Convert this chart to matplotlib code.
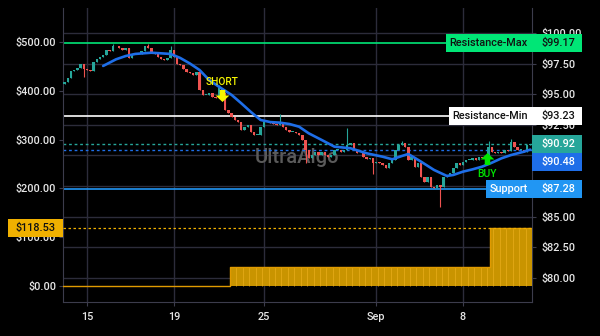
import matplotlib
matplotlib.use("Agg")
import matplotlib.pyplot as plt
import numpy as np
from matplotlib.patches import Rectangle
from matplotlib.path import Path
from matplotlib.transforms import offset_copy

plt.rcParams["font.family"] = ["Roboto", "DejaVu Sans"]
plt.rcParams["font.weight"] = "medium"

# ---------------------------------------------------------------------------
# Data
# ---------------------------------------------------------------------------
DAY_LABELS = ["15", "19", "25", "Sep", "8"]
DAY_BARS = [7, 34, 62, 97, 124]

FIRST_OPEN = 95.85
CLOSES = [
    96.02, 96.30, 96.90, 96.98, 97.17, 97.50, 97.10, 96.96, 96.90, 97.65,
    97.85, 98.00, 98.20, 98.60, 98.56, 98.94, 98.90, 98.75, 98.60, 98.75,
    97.93, 98.30, 98.40, 98.29, 98.56, 98.90, 98.75, 98.48, 98.30, 98.07,
    97.85, 97.80, 97.93, 98.60, 98.07, 97.50, 97.40,
    97.10, 96.85, 96.70, 96.57, 96.85, 95.35, 94.94, 94.94, 95.08, 94.75,
    94.67, 95.50, 95.08, 93.70, 93.50, 93.17, 92.90, 92.76, 92.08, 92.35,
    92.50, 91.94, 91.67, 91.67, 92.35, 92.76, 92.70, 92.65, 92.60, 92.50,
    92.76, 92.35, 92.08,
    91.94, 91.94, 91.80, 91.67, 91.27, 90.45, 89.77, 90.04, 90.30, 90.04,
    90.30, 90.04, 89.90, 90.04, 90.45, 90.45, 90.30, 90.45, 90.86, 91.00,
    90.45, 90.18, 90.18, 89.90, 89.69, 89.77, 89.36, 89.50, 89.36, 89.22,
    88.95, 89.36, 89.63, 90.45, 90.86, 91.05, 90.72, 89.63,
    89.90, 89.09, 89.36, 88.27, 87.86, 88.27, 87.45, 87.32, 87.59, 87.45,
    88.27, 88.40, 88.55, 88.95, 89.36, 89.22, 89.50, 89.63, 89.63, 89.77,
    89.63, 89.90, 89.77, 89.90, 90.72, 90.30, 90.17, 90.30, 90.17, 90.45,
    90.40, 91.12, 90.72, 90.45, 90.45, 90.30, 90.86, 90.92,
]
HIGH_SPIKES = {15: 99.10, 26: 99.10, 33: 98.95, 48: 95.76, 67: 93.35,
               88: 92.22, 105: 91.20, 132: 91.15, 139: 91.35}
LOW_SPIKES = {6: 96.43, 75: 89.40, 96: 88.45, 117: 85.82}

MA_BARS = [12, 16, 19, 22, 27, 30, 33, 36, 39, 42, 45, 48, 52, 55, 58, 61,
           64, 67, 70, 73, 76, 80, 84, 89, 94, 99, 102, 105, 107, 111, 115,
           119, 121, 124, 127, 130, 133, 136, 139, 143, 145]
MA_VALUES = [97.31, 97.85, 98.12, 98.29, 98.39, 98.34, 98.29, 97.96, 97.51,
             96.98, 96.16, 95.62, 94.94, 94.26, 93.55, 92.90, 92.73, 92.68,
             92.57, 92.35, 91.81, 91.27, 90.72, 90.59, 90.18, 89.90, 89.69,
             89.96, 90.12, 89.49, 88.82, 88.33, 88.41, 88.68, 88.87, 89.09,
             89.41, 89.77, 90.04, 90.31, 90.48]

LEVEL_NAMES = ["Resistance-Max", "Resistance-Min", "Support"]
LEVEL_VALUES = [99.17, 93.23, 87.28]
LEVEL_COLORS = ["#00e676", "#ffffff", "#2196f3"]
LEVEL_TEXT = ["#111111", "#111111", "#ffffff"]

LAST_PRICE = 90.92
MA_LAST = 90.48

GOLD_START = [0, 52, 133]
GOLD_LEVEL = [0.0, 39.0, 118.53]

SIGNAL_TEXT = ["SHORT", "BUY"]
SIGNAL_BAR = [49, 131]

PRICE_TICKS = [80, 82.5, 85, 87.5, 90, 92.5, 95, 97.5, 100]
HIDDEN_TICKS = [87.5, 90]          # fully covered by the price tags
LEFT_TICKS = [0, 100, 200, 300, 400, 500]

# ---------------------------------------------------------------------------
# Style
# ---------------------------------------------------------------------------
W, H = 600, 336
GREEN = "#26a69a"
RED = "#ef5350"
GRID = "#2c2c3a"
SPINE = "#3c3c4c"
LABEL = "#e6e6e6"
MA_COLOR = "#1e6ee8"
GOLD = "#c99400"
GOLD_EDGE = "#e6aa18"
FS = 7.8

fig = plt.figure(figsize=(W / 100, H / 100), dpi=100, facecolor="black")
ax = fig.add_axes([63 / W, 34 / H, 469 / W, 294 / H])
ax.set_facecolor("black")
axl = ax.twinx()
ax.yaxis.tick_right()
axl.yaxis.tick_left()

n = len(CLOSES)
idx = np.arange(n)
closes = np.array(CLOSES)
opens = np.array([FIRST_OPEN] + CLOSES[:-1])
highs = np.maximum(opens, closes)
lows = np.minimum(opens, closes)
for k, v in HIGH_SPIKES.items():
    highs[k] = max(highs[k], v)
for k, v in LOW_SPIKES.items():
    lows[k] = min(lows[k], v)
colors = np.where(closes >= opens, GREEN, RED)

ax.set_xlim(-0.5, n - 0.5)
ax.set_ylim(78.04, 102.04)
axl.set_ylim(-32.8, 569.7)

# grid
ax.set_yticks(PRICE_TICKS)
ax.set_yticklabels(["" if v in HIDDEN_TICKS else f"${v:.2f}" for v in PRICE_TICKS])
ax.set_xticks(DAY_BARS)
ax.set_xticklabels(DAY_LABELS)
ax.grid(True, color=GRID, lw=1)
ax.set_axisbelow(True)

# levels
for val, col in zip(LEVEL_VALUES, LEVEL_COLORS):
    ax.axhline(val, color=col, lw=1.2, zorder=2)
ax.axhline(LAST_PRICE, color=GREEN, lw=1, ls=(0, (2, 2)), zorder=2)
ax.axhline(MA_LAST, color=MA_COLOR, lw=1, ls=(0, (2, 2)), zorder=2)

# watermark
ax.text(0.5, 0.49, "UltraAlgo", transform=ax.transAxes, ha="center",
        va="center", fontsize=14.5, color="#5a5a5a", zorder=1)

# candles
ax.vlines(idx, lows, highs, colors=colors, lw=0.8, zorder=3)
body = np.maximum(np.abs(closes - opens), 0.05)
ax.bar(idx, body, bottom=np.minimum(opens, closes), width=0.75,
       color=colors, zorder=3)

# moving average
ax.plot(MA_BARS, MA_VALUES, color=MA_COLOR, lw=1.9, zorder=4,
        solid_capstyle="round")

# signals
down = Path([(-0.3, 0.6), (0.3, 0.6), (0.3, 0.0), (0.75, 0.0), (0.0, -0.7),
             (-0.75, 0.0), (-0.3, 0.0), (-0.3, 0.6)], closed=True)
up = Path([(x, -y) for x, y in down.vertices], closed=True)
sb, bb = SIGNAL_BAR
ax.plot([sb], [CLOSES[sb]], marker=down, ms=10, color="#f5f500", mec="none",
        transform=offset_copy(ax.transData, fig=fig, y=-2, units="dots"),
        zorder=6)
ax.annotate(SIGNAL_TEXT[0], xy=(sb, CLOSES[sb]), xytext=(0, 11),
            textcoords="offset pixels", ha="center", va="center",
            color="#f5f500", fontsize=7.4, zorder=6)
ax.plot([bb], [CLOSES[bb]], marker=up, ms=10, color="#00e600", mec="none",
        transform=offset_copy(ax.transData, fig=fig, x=2, y=-2, units="dots"),
        zorder=6)
ax.annotate(SIGNAL_TEXT[1], xy=(bb, CLOSES[bb]), xytext=(2, -17),
            textcoords="offset pixels", ha="center", va="center",
            color="#00e600", fontsize=7.4, zorder=6)

# gold step area on left scale
gold = np.zeros(n)
for s, v in zip(GOLD_START, GOLD_LEVEL):
    gold[s:] = v
on = gold > 0
axl.bar(idx[on], gold[on], width=1.0, color=GOLD, linewidth=0, zorder=2)
axl.vlines(idx[on][::2] - 0.5, 0, gold[on][::2], color=GOLD_EDGE, lw=0.7,
           alpha=0.8, zorder=2.5)
axl.step(np.append(idx - 0.5, n - 0.5), np.append(gold, gold[-1]),
         where="post", color="#e09a00", lw=1, zorder=3)
axl.axhline(GOLD_LEVEL[-1], color="#f0b000", lw=0.9, ls=(0, (2, 2)), zorder=3)
axl.set_yticks(LEFT_TICKS)
axl.set_yticklabels([f"${v:.2f}" for v in LEFT_TICKS])

# axes cosmetics
for a in (ax, axl):
    for s in a.spines.values():
        s.set_visible(False)
for side in ("left", "right", "bottom"):
    ax.spines[side].set_visible(True)
    ax.spines[side].set_color(SPINE)
ax.tick_params(axis="y", colors=SPINE, labelcolor=LABEL, labelsize=FS,
               length=3, pad=4)
ax.tick_params(axis="x", colors=SPINE, labelcolor=LABEL, labelsize=FS,
               length=3, pad=4)
axl.tick_params(axis="y", colors=SPINE, labelcolor=LABEL, labelsize=FS,
                length=3, pad=2)


# ---------------------------------------------------------------------------
# Price tags on the scales
# ---------------------------------------------------------------------------
def to_px(a, val):
    return H - a.transData.transform((0, val))[1]


def box(x0, x1, yc, text, bg, fg, h=18):
    fig.patches.append(Rectangle((x0 / W, 1 - (yc + h / 2) / H),
                                 (x1 - x0) / W, h / H,
                                 transform=fig.transFigure, facecolor=bg,
                                 edgecolor="none", zorder=5))
    fig.text((x0 + 10) / W, 1 - yc / H, text, ha="left", va="center",
             color=fg, fontsize=FS, zorder=6)


tags = [(LEVEL_VALUES[0], LEVEL_COLORS[0], LEVEL_TEXT[0]),
        (LEVEL_VALUES[1], LEVEL_COLORS[1], LEVEL_TEXT[1]),
        (LAST_PRICE, GREEN, "#ffffff"),
        (MA_LAST, MA_COLOR, "#ffffff"),
        (LEVEL_VALUES[2], LEVEL_COLORS[2], LEVEL_TEXT[2])]
prev = -100
for val, bg, fg in tags:
    yc = max(to_px(ax, val), prev + 17.5)
    box(532, 582, yc, f"${val:.2f}", bg, fg)
    prev = yc

for name, val, bg, fg in zip(LEVEL_NAMES, LEVEL_VALUES, LEVEL_COLORS, LEVEL_TEXT):
    fig.text(528 / W, 1 - to_px(ax, val) / H, name, ha="right", va="center",
             color=fg, fontsize=FS, zorder=6,
             bbox=dict(boxstyle="square,pad=0.35", fc=bg, ec="none"))

yc = to_px(axl, GOLD_LEVEL[-1])
fig.patches.append(Rectangle((8 / W, 1 - (yc + 9) / H), 55 / W, 18 / H,
                             transform=fig.transFigure, facecolor="#f0b000",
                             edgecolor="none", zorder=5))
fig.text(35.5 / W, 1 - yc / H, f"${GOLD_LEVEL[-1]:.2f}", ha="center",
         va="center", color="#111111", fontsize=FS, zorder=6)

fig.savefig("out.png", dpi=100, facecolor="black")
